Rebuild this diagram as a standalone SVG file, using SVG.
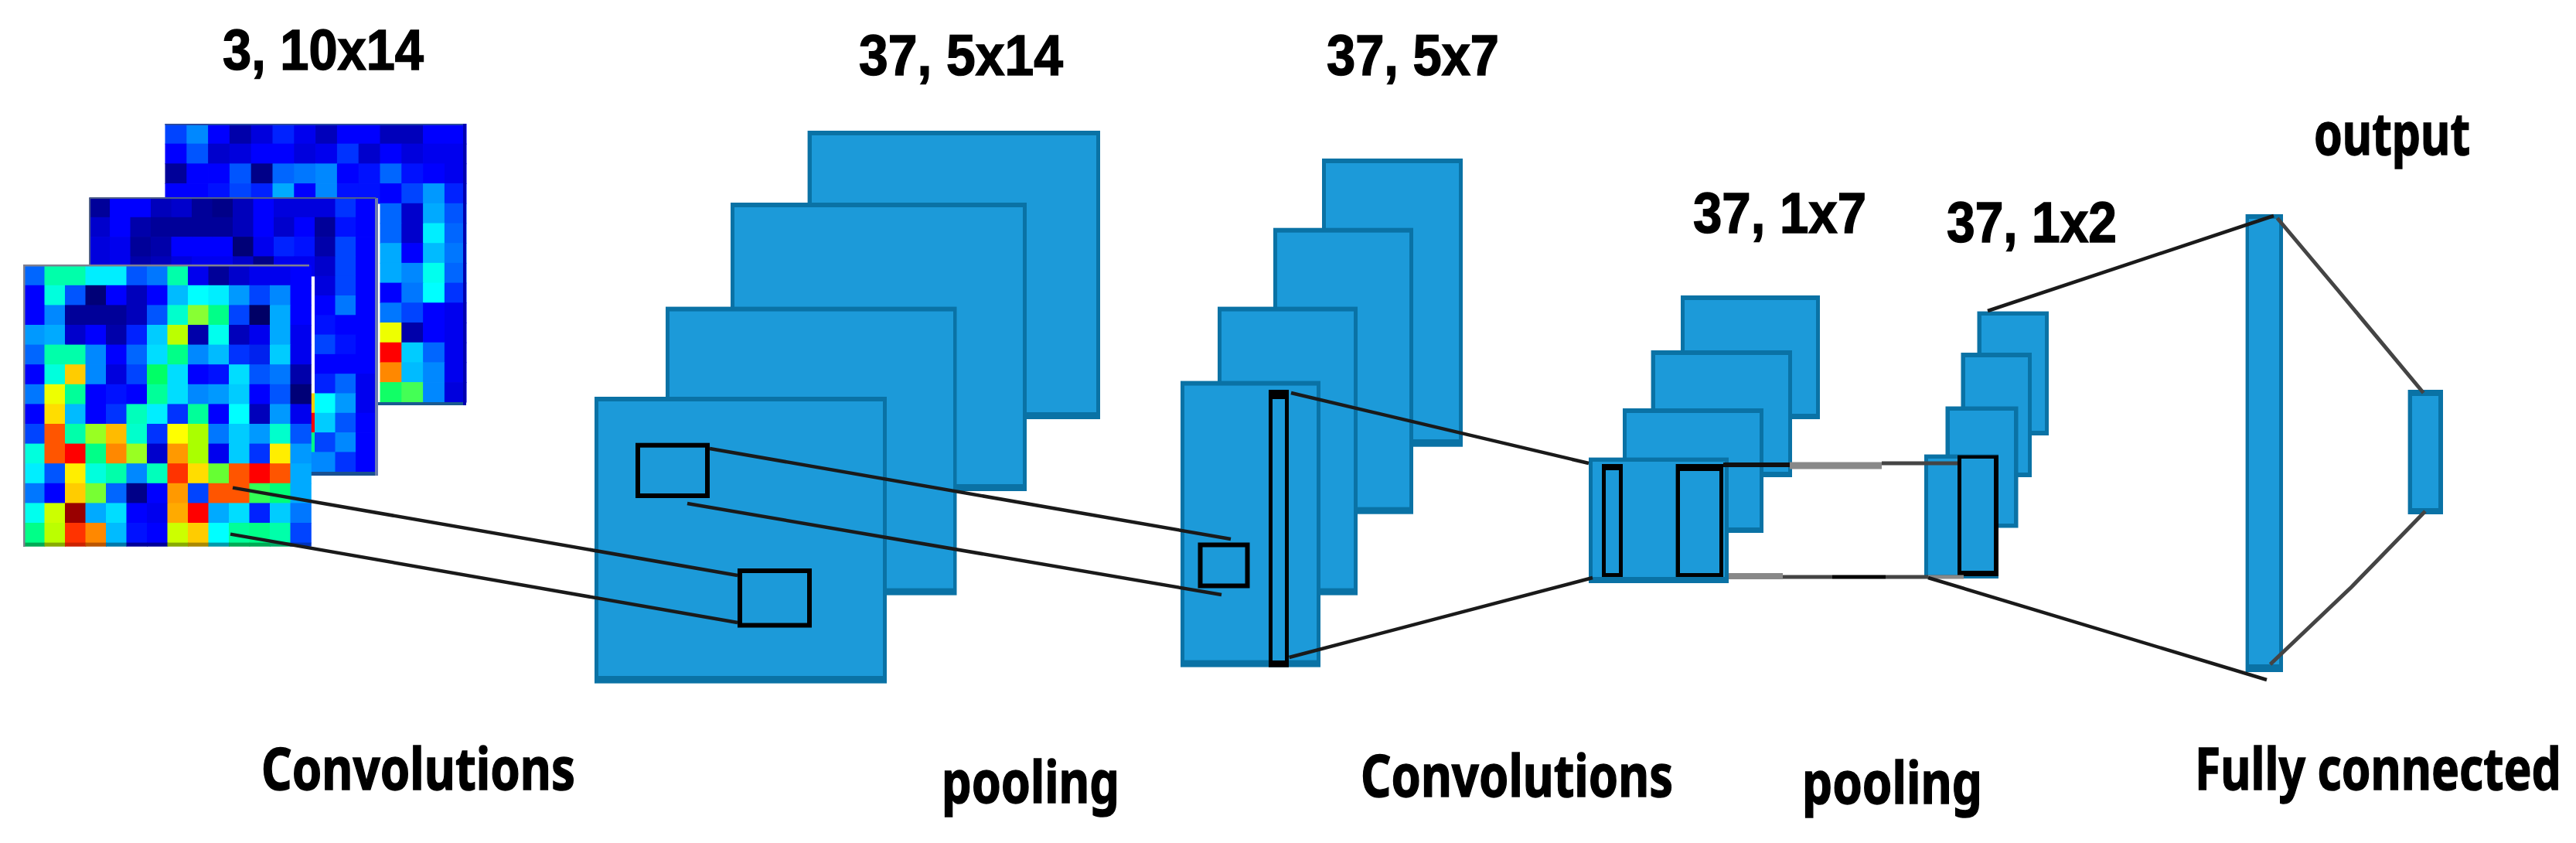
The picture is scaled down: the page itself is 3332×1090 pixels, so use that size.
<svg xmlns="http://www.w3.org/2000/svg" width="3332" height="1090" viewBox="0 0 3332 1090">
<style>
.heat rect{width:1.03px;height:1.03px}
.strip rect{width:1.03px;height:.2px}
.e{fill:#0a72a5}
.f{fill:#1c9ad9}
.k{fill:none;stroke:#000;stroke-width:6}
.c{fill:none;stroke:#1a1a1a;stroke-width:4.5}
.g{fill:none;stroke:#444;stroke-width:5}
.t{font-family:"Liberation Sans",Arial,sans-serif;font-weight:700;font-size:74px;fill:#000;stroke:#000;stroke-width:1.5}
.u{font-family:"Noto Sans","Liberation Sans",sans-serif;font-weight:700;font-size:76px;fill:#000;stroke:#000;stroke-width:1.5}
</style>
<rect width="3332" height="1090" fill="#fff"/>
<g id="heat-back">
<g class="heat" transform="translate(213.5,160) scale(27.8,25.7)">
<rect x="0" y="0" fill="#04f"/><rect x="1" y="0" fill="#08f"/><rect x="2" y="0" fill="#00f"/><rect x="3" y="0" fill="#00a"/><rect x="4" y="0" fill="#00d"/><rect x="5" y="0" fill="#02f"/><rect x="6" y="0" fill="#00e"/><rect x="7" y="0" fill="#00b"/><rect x="8" y="0" fill="#00f"/><rect x="9" y="0" fill="#00f"/><rect x="10" y="0" fill="#00b"/><rect x="11" y="0" fill="#00b"/><rect x="12" y="0" fill="#00f"/><rect x="13" y="0" fill="#00f"/>
<rect x="0" y="1" fill="#00f"/><rect x="1" y="1" fill="#05f"/><rect x="2" y="1" fill="#00c"/><rect x="3" y="1" fill="#00d"/><rect x="4" y="1" fill="#00f"/><rect x="5" y="1" fill="#00f"/><rect x="6" y="1" fill="#00d"/><rect x="7" y="1" fill="#00e"/><rect x="8" y="1" fill="#03f"/><rect x="9" y="1" fill="#00c"/><rect x="10" y="1" fill="#00f"/><rect x="11" y="1" fill="#00d"/><rect x="12" y="1" fill="#00e"/><rect x="13" y="1" fill="#00e"/>
<rect x="0" y="2" fill="#009"/><rect x="1" y="2" fill="#00f"/><rect x="2" y="2" fill="#00f"/><rect x="3" y="2" fill="#05f"/><rect x="4" y="2" fill="#008"/><rect x="5" y="2" fill="#06f"/><rect x="6" y="2" fill="#07f"/><rect x="7" y="2" fill="#08f"/><rect x="8" y="2" fill="#00f"/><rect x="9" y="2" fill="#01f"/><rect x="10" y="2" fill="#06f"/><rect x="11" y="2" fill="#01f"/><rect x="12" y="2" fill="#00f"/><rect x="13" y="2" fill="#00e"/>
<rect x="0" y="3" fill="#00f"/><rect x="1" y="3" fill="#00f"/><rect x="2" y="3" fill="#01f"/><rect x="3" y="3" fill="#04f"/><rect x="4" y="3" fill="#02f"/><rect x="5" y="3" fill="#0af"/><rect x="6" y="3" fill="#00f"/><rect x="7" y="3" fill="#08f"/><rect x="8" y="3" fill="#01f"/><rect x="9" y="3" fill="#01f"/><rect x="10" y="3" fill="#00f"/><rect x="11" y="3" fill="#04f"/><rect x="12" y="3" fill="#09f"/><rect x="13" y="3" fill="#02f"/>
<rect x="10" y="4" fill="#06f"/><rect x="11" y="4" fill="#00c"/><rect x="12" y="4" fill="#0af"/><rect x="13" y="4" fill="#05f"/>
<rect x="10" y="5" fill="#06f"/><rect x="11" y="5" fill="#00c"/><rect x="12" y="5" fill="#0ef"/><rect x="13" y="5" fill="#06f"/>
<rect x="10" y="6" fill="#0af"/><rect x="11" y="6" fill="#00f"/><rect x="12" y="6" fill="#0bf"/><rect x="13" y="6" fill="#07f"/>
<rect x="10" y="7" fill="#0af"/><rect x="11" y="7" fill="#08f"/><rect x="12" y="7" fill="#0fe"/><rect x="13" y="7" fill="#06f"/>
<rect x="10" y="8" fill="#00f"/><rect x="11" y="8" fill="#07f"/><rect x="12" y="8" fill="#0ff"/><rect x="13" y="8" fill="#03f"/>
<rect x="10" y="9" fill="#07f"/><rect x="11" y="9" fill="#04f"/><rect x="12" y="9" fill="#00f"/><rect x="13" y="9" fill="#00e"/>
<rect x="10" y="10" fill="#ef0"/><rect x="11" y="10" fill="#00a"/><rect x="12" y="10" fill="#00f"/><rect x="13" y="10" fill="#00e"/>
<rect x="10" y="11" fill="#f00"/><rect x="11" y="11" fill="#0cf"/><rect x="12" y="11" fill="#06f"/><rect x="13" y="11" fill="#00e"/>
<rect x="10" y="12" fill="#f80"/><rect x="11" y="12" fill="#0bf"/><rect x="12" y="12" fill="#08f"/><rect x="13" y="12" fill="#00e"/>
<rect x="10" y="13" fill="#1f6"/><rect x="11" y="13" fill="#4f5"/><rect x="12" y="13" fill="#08f"/><rect x="13" y="13" fill="#00d"/>
</g>
<rect x="486" y="520" width="117" height="4" fill="#1a5a90"/>
<rect x="213.5" y="160" width="389.5" height="2" fill="#2a4aa0"/>
<rect x="599" y="160" width="4" height="364" fill="#0000b0"/>
</g>
<g id="heat-middle">
<g class="heat" transform="translate(115.5,255.5) scale(26.5,25.3)">
<rect x="0" y="0" fill="#009"/><rect x="1" y="0" fill="#00f"/><rect x="2" y="0" fill="#00f"/><rect x="3" y="0" fill="#00b"/><rect x="4" y="0" fill="#00c"/><rect x="5" y="0" fill="#009"/><rect x="6" y="0" fill="#008"/><rect x="7" y="0" fill="#00b"/><rect x="8" y="0" fill="#00f"/><rect x="9" y="0" fill="#00d"/><rect x="10" y="0" fill="#00d"/><rect x="11" y="0" fill="#00d"/><rect x="12" y="0" fill="#03f"/><rect x="13" y="0" fill="#00f"/>
<rect x="0" y="1" fill="#00c"/><rect x="1" y="1" fill="#00f"/><rect x="2" y="1" fill="#00a"/><rect x="3" y="1" fill="#009"/><rect x="4" y="1" fill="#009"/><rect x="5" y="1" fill="#009"/><rect x="6" y="1" fill="#009"/><rect x="7" y="1" fill="#00b"/><rect x="8" y="1" fill="#00f"/><rect x="9" y="1" fill="#00c"/><rect x="10" y="1" fill="#00f"/><rect x="11" y="1" fill="#009"/><rect x="12" y="1" fill="#01f"/><rect x="13" y="1" fill="#00f"/>
<rect x="0" y="2" fill="#00d"/><rect x="1" y="2" fill="#00e"/><rect x="2" y="2" fill="#009"/><rect x="3" y="2" fill="#00a"/><rect x="4" y="2" fill="#00f"/><rect x="5" y="2" fill="#00f"/><rect x="6" y="2" fill="#00f"/><rect x="7" y="2" fill="#007"/><rect x="8" y="2" fill="#00e"/><rect x="9" y="2" fill="#02f"/><rect x="10" y="2" fill="#01f"/><rect x="11" y="2" fill="#00a"/><rect x="12" y="2" fill="#04f"/><rect x="13" y="2" fill="#00f"/>
<rect x="0" y="3" fill="#00d"/><rect x="1" y="3" fill="#00e"/><rect x="2" y="3" fill="#00a"/><rect x="3" y="3" fill="#00b"/><rect x="4" y="3" fill="#00d"/><rect x="5" y="3" fill="#00e"/><rect x="6" y="3" fill="#00e"/><rect x="7" y="3" fill="#00c"/><rect x="8" y="3" fill="#008"/><rect x="9" y="3" fill="#00e"/><rect x="10" y="3" fill="#00e"/><rect x="11" y="3" fill="#00c"/><rect x="12" y="3" fill="#04f"/><rect x="13" y="3" fill="#00f"/>
<rect x="11" y="4" fill="#00d"/><rect x="12" y="4" fill="#04f"/><rect x="13" y="4" fill="#00f"/>
<rect x="11" y="5" fill="#00f"/><rect x="12" y="5" fill="#07f"/><rect x="13" y="5" fill="#00f"/>
<rect x="11" y="6" fill="#01f"/><rect x="12" y="6" fill="#00f"/><rect x="13" y="6" fill="#00f"/>
<rect x="11" y="7" fill="#04f"/><rect x="12" y="7" fill="#01f"/><rect x="13" y="7" fill="#00f"/>
<rect x="11" y="8" fill="#00f"/><rect x="12" y="8" fill="#00f"/><rect x="13" y="8" fill="#00f"/>
<rect x="11" y="9" fill="#02f"/><rect x="12" y="9" fill="#06f"/><rect x="13" y="9" fill="#00e"/>
<rect x="10" y="10" fill="#fc0"/><rect x="11" y="10" fill="#0ff"/><rect x="12" y="10" fill="#09f"/><rect x="13" y="10" fill="#00e"/>
<rect x="10" y="11" fill="#f00"/><rect x="11" y="11" fill="#0cf"/><rect x="12" y="11" fill="#05f"/><rect x="13" y="11" fill="#00f"/>
<rect x="10" y="12" fill="#0f8"/><rect x="11" y="12" fill="#04f"/><rect x="12" y="12" fill="#08f"/><rect x="13" y="12" fill="#00f"/>
<rect x="10" y="13" fill="#08f"/><rect x="11" y="13" fill="#08f"/><rect x="12" y="13" fill="#03f"/><rect x="13" y="13" fill="#00f"/>
</g>
<rect x="400" y="610" width="89" height="5" fill="#1a5090"/>
<rect x="485" y="256" width="4" height="359" fill="#6a7ab0"/>
<rect x="115.5" y="255" width="371" height="2" fill="#50608a"/>
<rect x="115" y="256" width="2" height="87" fill="#50608a"/>
</g>
<g id="heat-front">
<g class="heat" transform="translate(31,343.2) scale(26.5,25.6)">
<rect x="0" y="0" fill="#06f"/><rect x="1" y="0" fill="#0fa"/><rect x="2" y="0" fill="#0fa"/><rect x="3" y="0" fill="#0ef"/><rect x="4" y="0" fill="#0ef"/><rect x="5" y="0" fill="#05f"/><rect x="6" y="0" fill="#07f"/><rect x="7" y="0" fill="#0fa"/><rect x="8" y="0" fill="#00e"/><rect x="9" y="0" fill="#009"/><rect x="10" y="0" fill="#00c"/><rect x="11" y="0" fill="#00e"/><rect x="12" y="0" fill="#00e"/><rect x="13" y="0" fill="#00f"/>
<rect x="0" y="1" fill="#00f"/><rect x="1" y="1" fill="#0fd"/><rect x="2" y="1" fill="#05f"/><rect x="3" y="1" fill="#007"/><rect x="4" y="1" fill="#00f"/><rect x="5" y="1" fill="#00b"/><rect x="6" y="1" fill="#00f"/><rect x="7" y="1" fill="#0bf"/><rect x="8" y="1" fill="#0ff"/><rect x="9" y="1" fill="#0ef"/><rect x="10" y="1" fill="#09f"/><rect x="11" y="1" fill="#04f"/><rect x="12" y="1" fill="#08f"/><rect x="13" y="1" fill="#00f"/>
<rect x="0" y="2" fill="#00f"/><rect x="1" y="2" fill="#08f"/><rect x="2" y="2" fill="#009"/><rect x="3" y="2" fill="#009"/><rect x="4" y="2" fill="#009"/><rect x="5" y="2" fill="#00b"/><rect x="6" y="2" fill="#05f"/><rect x="7" y="2" fill="#0fc"/><rect x="8" y="2" fill="#8f3"/><rect x="9" y="2" fill="#0f8"/><rect x="10" y="2" fill="#04f"/><rect x="11" y="2" fill="#006"/><rect x="12" y="2" fill="#0af"/><rect x="13" y="2" fill="#00f"/>
<rect x="0" y="3" fill="#09f"/><rect x="1" y="3" fill="#0af"/><rect x="2" y="3" fill="#00c"/><rect x="3" y="3" fill="#00f"/><rect x="4" y="3" fill="#00a"/><rect x="5" y="3" fill="#02f"/><rect x="6" y="3" fill="#0cf"/><rect x="7" y="3" fill="#bf0"/><rect x="8" y="3" fill="#00a"/><rect x="9" y="3" fill="#0fe"/><rect x="10" y="3" fill="#00b"/><rect x="11" y="3" fill="#00e"/><rect x="12" y="3" fill="#0af"/><rect x="13" y="3" fill="#00e"/>
<rect x="0" y="4" fill="#06f"/><rect x="1" y="4" fill="#0fa"/><rect x="2" y="4" fill="#0fa"/><rect x="3" y="4" fill="#08f"/><rect x="4" y="4" fill="#00f"/><rect x="5" y="4" fill="#06f"/><rect x="6" y="4" fill="#0df"/><rect x="7" y="4" fill="#0f8"/><rect x="8" y="4" fill="#08f"/><rect x="9" y="4" fill="#0bf"/><rect x="10" y="4" fill="#03f"/><rect x="11" y="4" fill="#02e"/><rect x="12" y="4" fill="#0cf"/><rect x="13" y="4" fill="#00e"/>
<rect x="0" y="5" fill="#00f"/><rect x="1" y="5" fill="#0fd"/><rect x="2" y="5" fill="#fc0"/><rect x="3" y="5" fill="#08f"/><rect x="4" y="5" fill="#00d"/><rect x="5" y="5" fill="#04f"/><rect x="6" y="5" fill="#0f6"/><rect x="7" y="5" fill="#0df"/><rect x="8" y="5" fill="#00f"/><rect x="9" y="5" fill="#01f"/><rect x="10" y="5" fill="#0df"/><rect x="11" y="5" fill="#05f"/><rect x="12" y="5" fill="#07f"/><rect x="13" y="5" fill="#00a"/>
<rect x="0" y="6" fill="#07f"/><rect x="1" y="6" fill="#ef0"/><rect x="2" y="6" fill="#0f9"/><rect x="3" y="6" fill="#00f"/><rect x="4" y="6" fill="#01f"/><rect x="5" y="6" fill="#00f"/><rect x="6" y="6" fill="#0f9"/><rect x="7" y="6" fill="#0df"/><rect x="8" y="6" fill="#08f"/><rect x="9" y="6" fill="#09f"/><rect x="10" y="6" fill="#0cf"/><rect x="11" y="6" fill="#00f"/><rect x="12" y="6" fill="#05f"/><rect x="13" y="6" fill="#007"/>
<rect x="0" y="7" fill="#00f"/><rect x="1" y="7" fill="#fd0"/><rect x="2" y="7" fill="#0bf"/><rect x="3" y="7" fill="#00f"/><rect x="4" y="7" fill="#03f"/><rect x="5" y="7" fill="#0fb"/><rect x="6" y="7" fill="#0ef"/><rect x="7" y="7" fill="#03f"/><rect x="8" y="7" fill="#0f9"/><rect x="9" y="7" fill="#00f"/><rect x="10" y="7" fill="#0ff"/><rect x="11" y="7" fill="#00b"/><rect x="12" y="7" fill="#09f"/><rect x="13" y="7" fill="#00e"/>
<rect x="0" y="8" fill="#04f"/><rect x="1" y="8" fill="#f50"/><rect x="2" y="8" fill="#0fa"/><rect x="3" y="8" fill="#9f2"/><rect x="4" y="8" fill="#fb0"/><rect x="5" y="8" fill="#0fc"/><rect x="6" y="8" fill="#03f"/><rect x="7" y="8" fill="#ff0"/><rect x="8" y="8" fill="#af0"/><rect x="9" y="8" fill="#07f"/><rect x="10" y="8" fill="#0cf"/><rect x="11" y="8" fill="#09f"/><rect x="12" y="8" fill="#0fc"/><rect x="13" y="8" fill="#05f"/>
<rect x="0" y="9" fill="#0fd"/><rect x="1" y="9" fill="#f50"/><rect x="2" y="9" fill="#f00"/><rect x="3" y="9" fill="#0f8"/><rect x="4" y="9" fill="#f80"/><rect x="5" y="9" fill="#9f2"/><rect x="6" y="9" fill="#00c"/><rect x="7" y="9" fill="#f90"/><rect x="8" y="9" fill="#af0"/><rect x="9" y="9" fill="#00e"/><rect x="10" y="9" fill="#0cf"/><rect x="11" y="9" fill="#03f"/><rect x="12" y="9" fill="#fe0"/><rect x="13" y="9" fill="#09f"/>
<rect x="0" y="10" fill="#0ef"/><rect x="1" y="10" fill="#05f"/><rect x="2" y="10" fill="#fe0"/><rect x="3" y="10" fill="#0fd"/><rect x="4" y="10" fill="#0fa"/><rect x="5" y="10" fill="#08f"/><rect x="6" y="10" fill="#0fb"/><rect x="7" y="10" fill="#f30"/><rect x="8" y="10" fill="#fd0"/><rect x="9" y="10" fill="#6f3"/><rect x="10" y="10" fill="#f50"/><rect x="11" y="10" fill="#f00"/><rect x="12" y="10" fill="#f50"/><rect x="13" y="10" fill="#0af"/>
<rect x="0" y="11" fill="#07f"/><rect x="1" y="11" fill="#00f"/><rect x="2" y="11" fill="#fc0"/><rect x="3" y="11" fill="#7f3"/><rect x="4" y="11" fill="#06f"/><rect x="5" y="11" fill="#008"/><rect x="6" y="11" fill="#00f"/><rect x="7" y="11" fill="#f90"/><rect x="8" y="11" fill="#04f"/><rect x="9" y="11" fill="#f50"/><rect x="10" y="11" fill="#f50"/><rect x="11" y="11" fill="#3f5"/><rect x="12" y="11" fill="#0f7"/><rect x="13" y="11" fill="#0af"/>
<rect x="0" y="12" fill="#0fe"/><rect x="1" y="12" fill="#cf0"/><rect x="2" y="12" fill="#900"/><rect x="3" y="12" fill="#0af"/><rect x="4" y="12" fill="#0df"/><rect x="5" y="12" fill="#00f"/><rect x="6" y="12" fill="#00e"/><rect x="7" y="12" fill="#fa0"/><rect x="8" y="12" fill="#f00"/><rect x="9" y="12" fill="#0af"/><rect x="10" y="12" fill="#0df"/><rect x="11" y="12" fill="#02f"/><rect x="12" y="12" fill="#0cf"/><rect x="13" y="12" fill="#07f"/>
<rect x="0" y="13" fill="#0f8"/><rect x="1" y="13" fill="#bf0"/><rect x="2" y="13" fill="#f30"/><rect x="3" y="13" fill="#f80"/><rect x="4" y="13" fill="#0bf"/><rect x="5" y="13" fill="#01f"/><rect x="6" y="13" fill="#00f"/><rect x="7" y="13" fill="#cf0"/><rect x="8" y="13" fill="#fc0"/><rect x="9" y="13" fill="#0ff"/><rect x="10" y="13" fill="#0f9"/><rect x="11" y="13" fill="#0f8"/><rect x="12" y="13" fill="#0fa"/><rect x="13" y="13" fill="#04f"/>
</g>
<g class="strip" transform="translate(31,343.2) scale(26.5,25.6)">
<rect x="0" y="14" fill="#0a5"/><rect x="1" y="14" fill="#8a0"/><rect x="2" y="14" fill="#c20"/><rect x="3" y="14" fill="#b50"/><rect x="4" y="14" fill="#07a"/><rect x="5" y="14" fill="#009"/><rect x="6" y="14" fill="#009"/><rect x="7" y="14" fill="#8a0"/><rect x="8" y="14" fill="#a80"/><rect x="9" y="14" fill="#09a"/><rect x="10" y="14" fill="#0a5"/><rect x="11" y="14" fill="#0a5"/><rect x="12" y="14" fill="#0a6"/><rect x="13" y="14" fill="#03b"/>
</g>
<rect x="31" y="342" width="369" height="2.5" fill="#80808f"/>
<rect x="30" y="342" width="2.5" height="365" fill="#80808f"/>
</g>
<g id="panel-1d"><rect class="e" x="1044.6" y="169" width="378.4" height="373"/><rect class="f" x="1050" y="175" width="368" height="358"/></g>
<g id="panel-1c"><rect class="e" x="945" y="262" width="383" height="373"/><rect class="f" x="950" y="268" width="373" height="358"/></g>
<g id="panel-1b"><rect class="e" x="861" y="396.6" width="376.5" height="373"/><rect class="f" x="866" y="402.6" width="367" height="358"/></g>
<g id="panel-1a"><rect class="e" x="769" y="513" width="378" height="370.6"/><rect class="f" x="774" y="519" width="368" height="355"/>
<rect class="k" x="825" y="575.7" width="90" height="65.3"/><rect class="k" x="957" y="738" width="90" height="70.5"/></g>
<g id="panel-2d"><rect class="e" x="1710" y="205" width="182" height="372.7"/><rect class="f" x="1715" y="211" width="172" height="357"/></g>
<g id="panel-2c"><rect class="e" x="1647" y="294.7" width="181" height="370"/><rect class="f" x="1652" y="300.7" width="171" height="355"/></g>
<g id="panel-2b"><rect class="e" x="1575" y="396.6" width="181" height="373"/><rect class="f" x="1580" y="402.6" width="171" height="358"/></g>
<g id="panel-2a"><rect class="e" x="1527" y="492.6" width="181" height="370"/><rect class="f" x="1532" y="498.6" width="171" height="355"/>
<rect class="k" x="1552.5" y="704.5" width="61" height="53"/>
<rect x="1641" y="504" width="26" height="358.7" fill="#000"/><rect class="f" x="1646" y="516" width="16" height="338"/></g>
<g id="panel-3d"><rect class="e" x="2174" y="382" width="180" height="160"/><rect class="f" x="2179" y="388" width="170" height="147"/></g>
<g id="panel-3c"><rect class="e" x="2135.6" y="453" width="182.4" height="164"/><rect class="f" x="2141" y="459" width="172" height="151"/></g>
<g id="panel-3b"><rect class="e" x="2099" y="528" width="182" height="161"/><rect class="f" x="2104" y="534" width="172" height="148"/></g>
<g id="panel-3a"><rect class="e" x="2055" y="591.6" width="181" height="162.4"/><rect class="f" x="2060" y="597" width="171" height="149"/>
<rect x="2072" y="600" width="27" height="146" fill="#000"/><rect class="f" x="2077" y="608" width="17" height="133"/>
<rect x="2167.6" y="600" width="61.4" height="146" fill="#000"/><rect class="f" x="2173" y="609" width="51" height="132"/></g>
<g id="panel-4d"><rect class="e" x="2557.5" y="402.6" width="92.5" height="160.4"/><rect class="f" x="2563" y="408" width="82" height="149"/></g>
<g id="panel-4c"><rect class="e" x="2536.5" y="456" width="91.5" height="161"/><rect class="f" x="2542" y="462" width="81" height="149"/></g>
<g id="panel-4b"><rect class="e" x="2516.5" y="525.5" width="94" height="157"/><rect class="f" x="2522" y="531" width="83" height="146"/></g>
<g id="panel-4a"><rect class="e" x="2489" y="587.6" width="96" height="160.4"/><rect class="f" x="2494" y="593" width="86" height="150"/>
<rect x="2532" y="588.6" width="53" height="156.4" fill="#000"/><rect class="f" x="2537" y="593" width="42" height="145"/></g>
<g id="panel-fc"><rect class="e" x="2904.6" y="277" width="48.4" height="592"/><rect class="f" x="2909" y="283" width="39" height="576"/></g>
<g id="panel-out"><rect class="e" x="3114.6" y="504" width="45.4" height="161"/><rect class="f" x="3120" y="512" width="34" height="145"/></g>
<g id="connectors">
<line class="c" x1="301" y1="630.6" x2="954" y2="744"/>
<line class="c" x1="298" y1="690.6" x2="954" y2="805"/>
<line class="c" x1="918" y1="580" x2="1592" y2="697"/>
<line class="c" x1="889" y1="651" x2="1580" y2="769"/>
<line class="c" x1="1670" y1="508" x2="2055" y2="599"/>
<line class="c" x1="1667.5" y1="850" x2="2060" y2="747"/>
<line x1="2229" y1="601" x2="2315" y2="601" stroke="#111" stroke-width="6"/>
<line x1="2315" y1="602" x2="2434" y2="602" stroke="#888" stroke-width="9"/>
<line x1="2434" y1="599" x2="2532" y2="599" stroke="#444" stroke-width="5"/>
<line x1="2236" y1="745" x2="2306" y2="745" stroke="#888" stroke-width="8"/>
<line x1="2306" y1="746" x2="2370" y2="746" stroke="#444" stroke-width="5"/>
<line x1="2370" y1="746" x2="2439" y2="746" stroke="#000" stroke-width="5"/>
<line x1="2439" y1="746" x2="2494" y2="746" stroke="#444" stroke-width="5"/>
<line x1="2494" y1="746" x2="2540" y2="746" stroke="#888" stroke-width="5"/>
<line class="c" x1="2571" y1="402" x2="2941" y2="279"/>
<line class="c" x1="2494" y1="747" x2="2932" y2="879"/>
<polyline class="g" points="2945.6,282 3023,374 3134.7,508"/>
<polyline class="g" points="3137,661 3041.6,759 2936.5,859"/>
</g>
<g id="labels">
<text class="t" x="288" y="90" textLength="260" lengthAdjust="spacingAndGlyphs">3, 10x14</text>
<text class="t" x="1111" y="97" textLength="264" lengthAdjust="spacingAndGlyphs">37, 5x14</text>
<text class="t" x="1716" y="97" textLength="223" lengthAdjust="spacingAndGlyphs">37, 5x7</text>
<text class="t" x="2190" y="301" textLength="224" lengthAdjust="spacingAndGlyphs">37, 1x7</text>
<text class="t" x="2518" y="313" textLength="220" lengthAdjust="spacingAndGlyphs">37, 1x2</text>
<text class="u" x="2993" y="200" textLength="202" lengthAdjust="spacingAndGlyphs">output</text>
<text class="u" x="338" y="1021" textLength="406" lengthAdjust="spacingAndGlyphs">Convolutions</text>
<text class="u" x="1218" y="1038" textLength="230" lengthAdjust="spacingAndGlyphs">pooling</text>
<text class="u" x="1760" y="1030" textLength="404" lengthAdjust="spacingAndGlyphs">Convolutions</text>
<text class="u" x="2331" y="1039" textLength="233" lengthAdjust="spacingAndGlyphs">pooling</text>
<text class="u" transform="translate(2839,1021) scale(.8,1)" textLength="592" lengthAdjust="spacingAndGlyphs">Fully connected</text>
</g>
</svg>
